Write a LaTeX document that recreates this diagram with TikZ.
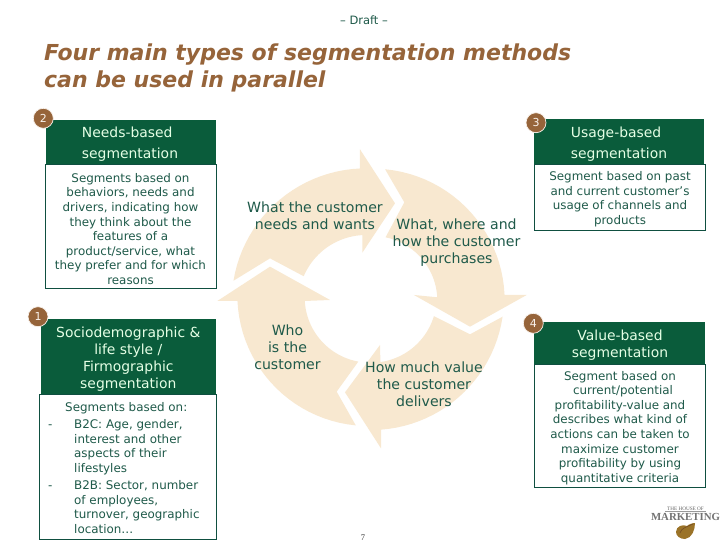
\documentclass[tikz,border=0pt]{standalone}
\usepackage{fontspec}
\setmainfont{DejaVu Sans}
\newfontfamily\logofont{Liberation Serif}
\definecolor{hdrgreen}{HTML}{0A5C3B}
\definecolor{txtgreen}{HTML}{1F5A4A}
\definecolor{boxline}{HTML}{0F4F40}
\definecolor{brownc}{HTML}{96643A}
\definecolor{sand}{HTML}{F8E8D0}
\tikzset{
 hdr/.style={fill=hdrgreen,draw=none},
 bodybox/.style={draw=boxline,fill=white,line width=.8pt},
 hdrtext/.style={text=white!90!green,font=\fontsize{13.9}{17}\selectfont,align=center,inner sep=0pt},
 bodytext/.style={text=txtgreen,font=\fontsize{11.9}{14.6}\selectfont,align=center,inner sep=0pt},
 looptext/.style={text=txtgreen,font=\fontsize{14.1}{17}\selectfont,align=center,inner sep=0pt},
 badge/.style={circle,fill=brownc,draw=white!90!brown,line width=.7pt,minimum size=20pt,inner sep=0pt,text=white!90!brown,font=\fontsize{11}{12}\selectfont},
 loopArrow/.style={fill=sand,draw=none},
 sw/.style={samples=24,variable=\t},
}
\begin{document}
\begin{tikzpicture}[x=1pt,y=-1pt]
\useasboundingbox (0,0) rectangle (728,546);
\fill[white] (0,0) rectangle (728,546);
\node[text=txtgreen,font=\fontsize{11.5}{13}\selectfont,inner sep=0pt] (draft) at (364,20) {– Draft –};
\node[anchor=north west,text=brownc,font=\fontsize{22}{27}\bfseries\itshape\selectfont,align=left,inner sep=0pt] (title) at (44,44) {Four main types of segmentation methods\\can be used in parallel};

% cycle arrows, in the zoomed coordinates of the reference
\begin{scope}[x=.33333pt,y=-.33333pt,shift={(630,420)}]
\fill[loopArrow] plot[sw,domain=189.4:267.4] ({468+403*cos(\t)},{488+403*sin(\t)}) -- (450,28) -- (555,190) -- (457,338) -- plot[sw,domain=267:203] ({468+203*cos(\t)},{488+203*sin(\t)}) -- (180,355) -- cycle;
\fill[loopArrow] plot[sw,domain=275.4:357.5] ({488+396*cos(\t)},{482+396*sin(\t)}) -- (950,465) -- (780,560) -- (612,465) -- plot[sw,domain=357:281.5] ({488+194*cos(\t)},{482+194*sin(\t)}) -- (583,187) -- cycle;
\fill[loopArrow] plot[sw,domain=8.4:85.8] ({484+398*cos(\t)},{472+398*sin(\t)}) -- (513,925) -- (405,757) -- (510,615) -- plot[sw,domain=82:16.7] ({484+196*cos(\t)},{472+196*sin(\t)}) -- (780,583) -- cycle;
\fill[loopArrow] plot[sw,domain=95.5:177.4] ({475+393*cos(\t)},{465+393*sin(\t)}) -- (22,483) -- (180,380) -- (360,480) -- plot[sw,domain=176.8:100.3] ({480+196*cos(\t)},{472+196*sin(\t)}) -- (380,755) -- cycle;
\end{scope}

\node[looptext] (l1) at (315,215.5) {What the customer\\needs and wants};
\node[looptext] (l2) at (456.5,243) {What, where and\\how the customer\\purchases};
\node[looptext] (l3) at (424,384.5) {How much value\\the customer\\delivers};
\node[looptext] (l4) at (287.5,347) {Who\\is the\hspace{4pt}\\customer};

% Needs
\fill[hdr] (45.5,119.5) rectangle (216,164.5);
\draw[bodybox] (45.5,164.5) rectangle (216.5,288.5);
\node[hdrtext,align=left,font=\fontsize{13.9}{21}\selectfont] (h2) at (130,144.5) {Needs-based\\segmentation};
\node[bodytext] (b2) at (130.5,229) {Segments based on\\behaviors, needs and\\drivers, indicating how\\they think about the\\features of a\\product/service, what\\they prefer and for which\\reasons};
\node[badge] (n2) at (43.3,118.3) {2};

% Socio
\fill[hdr] (40.7,319) rectangle (216,394.5);
\draw[bodybox] (39.5,394.5) rectangle (216.5,539);
\node[hdrtext] (h1) at (128.3,359.5) {Sociodemographic \&\\life style /\\Firmographic\\segmentation};
\node[bodytext,align=left,anchor=west] (b1) at (48,468) {\hspace{17pt}Segments based on:\\[2.5pt]\makebox[26pt][l]{-}B2C: Age, gender,\\\makebox[26pt][l]{}interest and other\\\makebox[26pt][l]{}aspects of their\\\makebox[26pt][l]{}lifestyles\\[2.5pt]\makebox[26pt][l]{-}B2B: Sector, number\\\makebox[26pt][l]{}of employees,\\\makebox[26pt][l]{}turnover, geographic\\\makebox[26pt][l]{}location…};
\node[badge] (n1) at (38,316.7) {1};

% Usage
\fill[hdr] (534.3,119.3) rectangle (704,164.5);
\draw[bodybox] (534.5,164.5) rectangle (705.5,230);
\node[hdrtext,align=left,font=\fontsize{13.9}{21}\selectfont] (h3) at (619,144.5) {Usage-based\\segmentation};
\node[bodytext] (b3) at (620,199.3) {Segment based on past\\and current customer’s\\usage of channels and\\products};
\node[badge] (n3) at (536,122.7) {3};

% Value
\fill[hdr] (534.3,322.3) rectangle (705.3,364.5);
\draw[bodybox] (534.5,364.5) rectangle (705.5,487.3);
\node[hdrtext] (h4) at (620,345.5) {Value-based\\segmentation};
\node[bodytext] (b4) at (620,428) {Segment based on\\\hspace{6pt}current/potential\\profitability-value and\\describes what kind of\\actions can be taken to\\maximize customer\\profitability by using\\quantitative criteria};
\node[badge] (n4) at (533.3,323.3) {4};

% page number and logo
\node[font=\logofont\fontsize{8.5}{10}\selectfont,text=black!80,inner sep=0pt] (page) at (363,538) {7};
\node[font=\logofont\fontsize{5.2}{6}\selectfont,text=black!60,inner sep=0pt] (lg1) at (685.5,508.5) {THE HOUSE OF};
\draw[black!40,line width=.3pt] (665,511.5) -- (706,511.5);
\node[font=\logofont\bfseries\fontsize{10.8}{12}\selectfont,text=black!55,inner sep=0pt] (lg2) at (685.5,517) {MARKETING};
\fill[brown!70!olive!90!black] (676,532) .. controls (676,526) and (683,524) .. (687,526) .. controls (689,524) and (693,523) .. (695,523) .. controls (695,530) and (692,538) .. (685,539) .. controls (680,539) and (676,536) .. (676,532) -- cycle;
\draw[brown!60!black,line width=.6pt] (680,533) .. controls (681,528) and (687,527) .. (693,524);
\end{tikzpicture}
\end{document}
